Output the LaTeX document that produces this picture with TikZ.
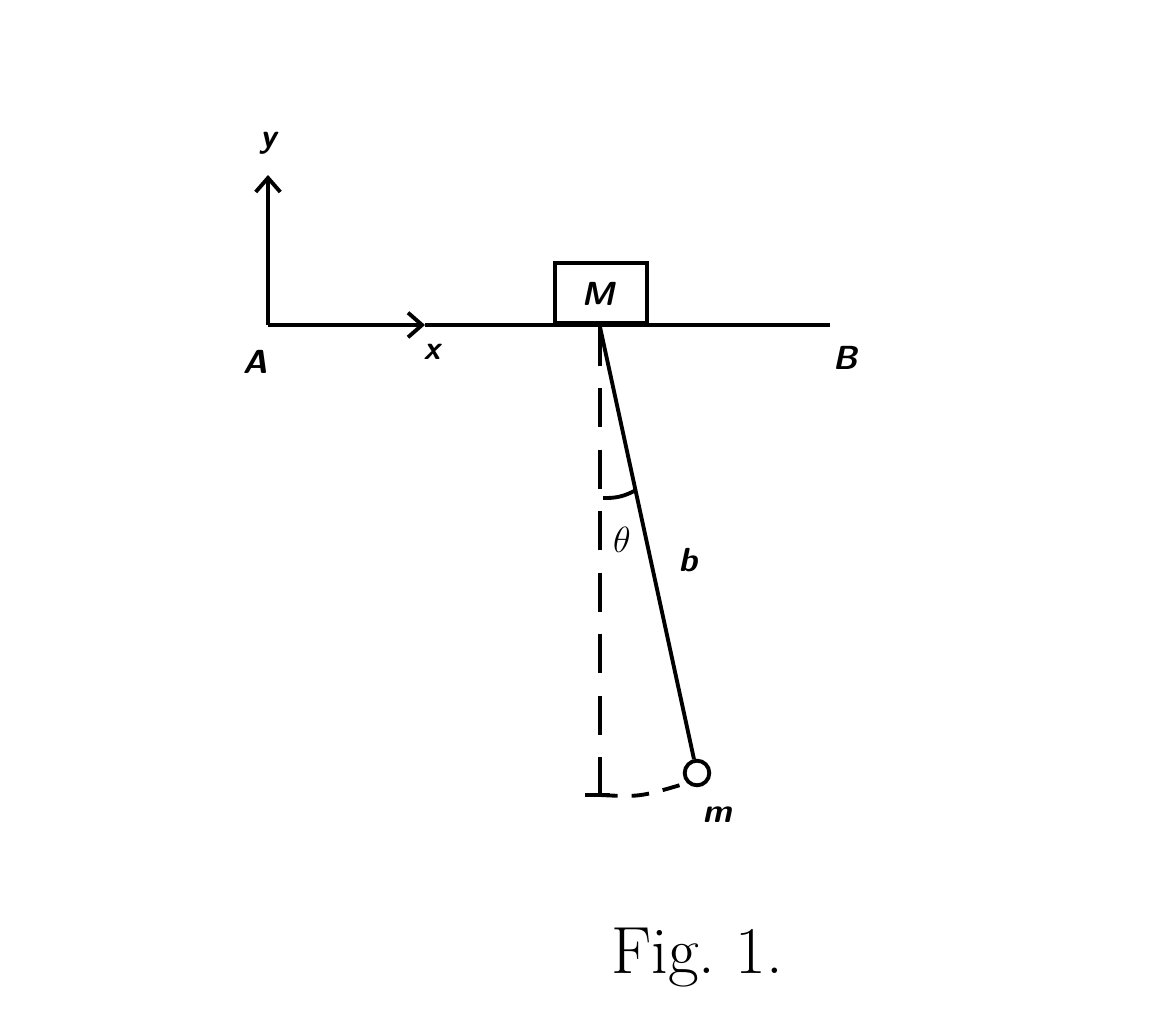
\documentclass[tikz,border=0pt]{standalone}
\usetikzlibrary{arrows.meta}
\begin{document}
\begin{tikzpicture}[x=0.02cm,y=-0.02cm,
  ln/.style={line width=2.2pt},
  lab/.style={font=\sffamily\itshape\bfseries\fontsize{19}{22}\selectfont},
  arr/.style={ln,-{Straight Barb[length=8pt,width=14pt,line width=2.2pt]}}]
\useasboundingbox (0,0) rectangle (1170,1026);
\coordinate (O) at (268,325);
\coordinate (Ytop) at (268,175);
\coordinate (Xarr) at (425,325);
\coordinate (Bend) at (830,325);
\coordinate (P) at (600,327);
\coordinate (Dbot) at (600,795);
\node[ln,draw,circle,inner sep=0pt,minimum size=14pt] (m) at (697,773) {};
\draw[arr] (O) -- (Ytop);
\draw[arr] (O) -- (Xarr);
\draw[ln] (Xarr) -- (Bend);
\node[ln,draw,minimum width=1.84cm,minimum height=1.2cm,inner sep=0pt,anchor=south] (M) at (601,325) {};
\node[lab] (Mt) at (598,294) {M};
\draw[ln] (P) -- (m);
\draw[ln,dash pattern=on 22pt off 13pt] (P) -- (Dbot);
\draw[ln] (585,795) -- (610,795);
\draw[ln,dash pattern=on 10pt off 8pt] (Dbot) .. controls (640,797) .. (m.south west);
\draw[ln] (603,498) to[bend right=15] (636,490);
\node[lab] (y) at (268,143) {y};
\node[lab] (x) at (432,352) {x};
\node[lab] (A) at (255,362) {A};
\node[lab] (B) at (845,358) {B};
\node[font=\fontsize{22}{24}\selectfont] (th) at (622,540) {$\theta$};
\node[lab] (b) at (688,560) {b};
\node[lab] (mt) at (717,815) {m};
\node[font=\fontsize{38}{42}\selectfont] (fig) at (697,958) {Fig.\ 1.};
\end{tikzpicture}
\end{document}
